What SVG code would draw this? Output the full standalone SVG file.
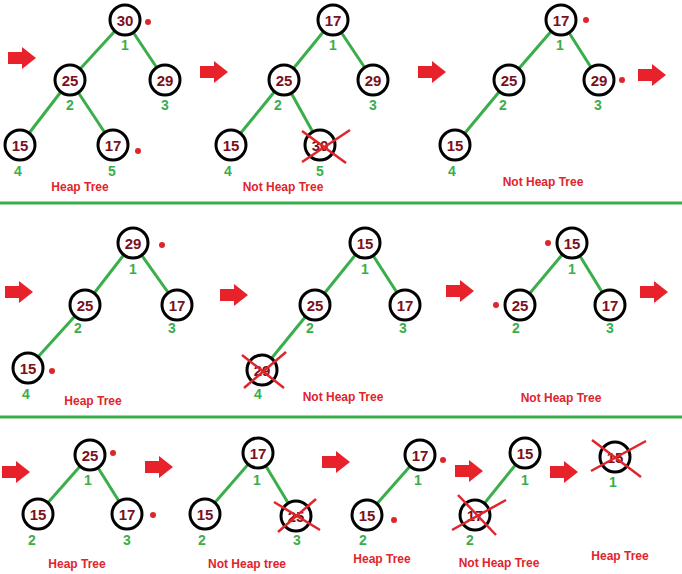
<svg xmlns="http://www.w3.org/2000/svg" xmlns:xlink="http://www.w3.org/1999/xlink" width="682" height="574" viewBox="0 0 682 574">
<style>
.n circle{fill:#fff;stroke:#000;stroke-width:3}
.n text{font-family:"Liberation Sans",Arial,sans-serif;font-weight:bold;font-size:15px;fill:#7a1020;text-anchor:middle}
.i{font-family:"Liberation Sans",Arial,sans-serif;font-weight:bold;font-size:14px;fill:#3aae4a;text-anchor:middle}
.l{font-family:"Liberation Sans",Arial,sans-serif;font-weight:bold;font-size:12px;fill:#e0242c;text-anchor:middle}
.e{stroke:#3aae4a;stroke-width:3}
.x{stroke:#e0242c;stroke-width:2.5}
.d{fill:#e0242c}
</style>
<defs>
<path id="ar" d="M0,-6H14V-11L28,0L14,11V6H0Z" fill="#e8222a"/>
</defs>
<g id="connectors">
<line class="e" x1="125" y1="20" x2="70" y2="80"/><line class="e" x1="125" y1="20" x2="165" y2="80"/><line class="e" x1="70" y1="80" x2="20" y2="145"/><line class="e" x1="70" y1="80" x2="113" y2="145"/>
<line class="e" x1="333" y1="20" x2="284" y2="80"/><line class="e" x1="333" y1="20" x2="373" y2="80"/><line class="e" x1="284" y1="80" x2="231" y2="145"/><line class="e" x1="284" y1="80" x2="320" y2="145"/>
<line class="e" x1="561" y1="20" x2="509" y2="80"/><line class="e" x1="561" y1="20" x2="599" y2="80"/><line class="e" x1="509" y1="80" x2="455" y2="145"/>
<line class="e" x1="133" y1="243" x2="85" y2="305"/><line class="e" x1="133" y1="243" x2="177" y2="305"/><line class="e" x1="85" y1="305" x2="28" y2="368"/>
<line class="e" x1="365" y1="243" x2="315" y2="305"/><line class="e" x1="365" y1="243" x2="405" y2="305"/><line class="e" x1="315" y1="305" x2="262" y2="370"/>
<line class="e" x1="572" y1="243" x2="520" y2="305"/><line class="e" x1="572" y1="243" x2="610" y2="305"/>
<line class="e" x1="90" y1="455" x2="38" y2="514"/><line class="e" x1="90" y1="455" x2="127" y2="514"/>
<line class="e" x1="258" y1="453" x2="205" y2="514"/><line class="e" x1="258" y1="453" x2="296" y2="516"/>
<line class="e" x1="420" y1="455" x2="367" y2="515"/>
<line class="e" x1="525" y1="453" x2="475" y2="515"/>
</g>
<g id="separators"><line x1="0" y1="203" x2="682" y2="203" stroke="#3aae4a" stroke-width="3"/><line x1="0" y1="417" x2="682" y2="417" stroke="#3aae4a" stroke-width="3"/></g>
<g id="arrows">
<use href="#ar" x="8" y="58"/><use href="#ar" x="200" y="72"/><use href="#ar" x="418" y="72"/><use href="#ar" x="638" y="75"/>
<use href="#ar" x="5" y="292"/><use href="#ar" x="220" y="295"/><use href="#ar" x="446" y="291"/><use href="#ar" x="640" y="292"/>
<use href="#ar" x="2" y="472"/><use href="#ar" x="145" y="467"/><use href="#ar" x="322" y="462"/><use href="#ar" x="455" y="471"/><use href="#ar" x="550" y="472"/>
</g>
<g id="p1">
<g class="n" id="n1a"><circle cx="125" cy="20" r="15"/><text x="125" y="26">30</text></g>
<g class="n" id="n1b"><circle cx="70" cy="80" r="15"/><text x="70" y="86">25</text></g>
<g class="n" id="n1c"><circle cx="165" cy="80" r="15"/><text x="165" y="86">29</text></g>
<g class="n" id="n1d"><circle cx="20" cy="145" r="15"/><text x="20" y="151">15</text></g>
<g class="n" id="n1e"><circle cx="113" cy="145" r="15"/><text x="113" y="151">17</text></g>
<circle class="d" cx="148" cy="22" r="3"/><circle class="d" cx="138" cy="151" r="3"/>
<text class="i" x="125" y="50">1</text><text class="i" x="70" y="110">2</text><text class="i" x="165" y="110">3</text><text class="i" x="18" y="176">4</text><text class="i" x="112" y="176">5</text>
<text class="l" x="80" y="191">Heap Tree</text>
</g>
<g id="p2">
<g class="n" id="n2a"><circle cx="333" cy="20" r="15"/><text x="333" y="26">17</text></g>
<g class="n" id="n2b"><circle cx="284" cy="80" r="15"/><text x="284" y="86">25</text></g>
<g class="n" id="n2c"><circle cx="373" cy="80" r="15"/><text x="373" y="86">29</text></g>
<g class="n" id="n2d"><circle cx="231" cy="145" r="15"/><text x="231" y="151">15</text></g>
<g class="n" id="n2e"><circle cx="320" cy="145" r="15"/><text x="320" y="151">30</text></g>
<line class="x" x1="302" y1="131" x2="346" y2="163"/><line class="x" x1="302" y1="162" x2="350" y2="130"/>
<text class="i" x="333" y="50">1</text><text class="i" x="278" y="110">2</text><text class="i" x="373" y="110">3</text><text class="i" x="228" y="176">4</text><text class="i" x="320" y="176">5</text>
<text class="l" x="283" y="191">Not Heap Tree</text>
</g>
<g id="p3">
<g class="n" id="n3a"><circle cx="561" cy="20" r="15"/><text x="561" y="26">17</text></g>
<g class="n" id="n3b"><circle cx="509" cy="80" r="15"/><text x="509" y="86">25</text></g>
<g class="n" id="n3c"><circle cx="599" cy="80" r="15"/><text x="599" y="86">29</text></g>
<g class="n" id="n3d"><circle cx="455" cy="145" r="15"/><text x="455" y="151">15</text></g>
<circle class="d" cx="586" cy="20" r="3"/><circle class="d" cx="622" cy="80" r="3"/>
<text class="i" x="560" y="50">1</text><text class="i" x="503" y="110">2</text><text class="i" x="598" y="110">3</text><text class="i" x="452" y="176">4</text>
<text class="l" x="543" y="186">Not Heap Tree</text>
</g>
<g id="p4">
<g class="n" id="n4a"><circle cx="133" cy="243" r="15"/><text x="133" y="249">29</text></g>
<g class="n" id="n4b"><circle cx="85" cy="305" r="15"/><text x="85" y="311">25</text></g>
<g class="n" id="n4c"><circle cx="177" cy="305" r="15"/><text x="177" y="311">17</text></g>
<g class="n" id="n4d"><circle cx="28" cy="368" r="15"/><text x="28" y="374">15</text></g>
<circle class="d" cx="162" cy="245" r="3"/><circle class="d" cx="52" cy="371" r="3"/>
<text class="i" x="133" y="274">1</text><text class="i" x="78" y="333">2</text><text class="i" x="172" y="333">3</text><text class="i" x="26" y="399">4</text>
<text class="l" x="93" y="405">Heap Tree</text>
</g>
<g id="p5">
<g class="n" id="n5a"><circle cx="365" cy="243" r="15"/><text x="365" y="249">15</text></g>
<g class="n" id="n5b"><circle cx="315" cy="305" r="15"/><text x="315" y="311">25</text></g>
<g class="n" id="n5c"><circle cx="405" cy="305" r="15"/><text x="405" y="311">17</text></g>
<g class="n" id="n5d"><circle cx="262" cy="370" r="15"/><text x="262" y="376">29</text></g>
<line class="x" x1="242" y1="355" x2="284" y2="388"/><line class="x" x1="244" y1="388" x2="286" y2="352"/>
<text class="i" x="365" y="274">1</text><text class="i" x="310" y="333">2</text><text class="i" x="403" y="333">3</text><text class="i" x="258" y="399">4</text>
<text class="l" x="343" y="401">Not Heap Tree</text>
</g>
<g id="p6">
<g class="n" id="n6a"><circle cx="572" cy="243" r="15"/><text x="572" y="249">15</text></g>
<g class="n" id="n6b"><circle cx="520" cy="305" r="15"/><text x="520" y="311">25</text></g>
<g class="n" id="n6c"><circle cx="610" cy="305" r="15"/><text x="610" y="311">17</text></g>
<circle class="d" cx="548" cy="243" r="3"/><circle class="d" cx="496" cy="305" r="3"/>
<text class="i" x="572" y="274">1</text><text class="i" x="516" y="333">2</text><text class="i" x="610" y="333">3</text>
<text class="l" x="561" y="402">Not Heap Tree</text>
</g>
<g id="p7">
<g class="n" id="n7a"><circle cx="90" cy="455" r="15"/><text x="90" y="461">25</text></g>
<g class="n" id="n7b"><circle cx="38" cy="514" r="15"/><text x="38" y="520">15</text></g>
<g class="n" id="n7c"><circle cx="127" cy="514" r="15"/><text x="127" y="520">17</text></g>
<circle class="d" cx="113" cy="453" r="3"/><circle class="d" cx="153" cy="515" r="3"/>
<text class="i" x="88" y="485">1</text><text class="i" x="32" y="545">2</text><text class="i" x="127" y="545">3</text>
<text class="l" x="77" y="568">Heap Tree</text>
</g>
<g id="p8">
<g class="n" id="n8a"><circle cx="258" cy="453" r="15"/><text x="258" y="459">17</text></g>
<g class="n" id="n8b"><circle cx="205" cy="514" r="15"/><text x="205" y="520">15</text></g>
<g class="n" id="n8c"><circle cx="296" cy="516" r="15"/><text x="296" y="522">25</text></g>
<line class="x" x1="274" y1="502" x2="320" y2="530"/><line class="x" x1="278" y1="532" x2="316" y2="499"/>
<text class="i" x="257" y="485">1</text><text class="i" x="202" y="545">2</text><text class="i" x="297" y="545">3</text>
<text class="l" x="247" y="568">Not Heap tree</text>
</g>
<g id="p9">
<g class="n" id="n9a"><circle cx="420" cy="455" r="15"/><text x="420" y="461">17</text></g>
<g class="n" id="n9b"><circle cx="367" cy="515" r="15"/><text x="367" y="521">15</text></g>
<circle class="d" cx="443" cy="460" r="3"/><circle class="d" cx="394" cy="520" r="3"/>
<text class="i" x="418" y="485">1</text><text class="i" x="363" y="545">2</text>
<text class="l" x="382" y="563">Heap Tree</text>
</g>
<g id="p10">
<g class="n" id="n10a"><circle cx="525" cy="453" r="15"/><text x="525" y="459">15</text></g>
<g class="n" id="n10b"><circle cx="475" cy="515" r="15"/><text x="475" y="521">17</text></g>
<line class="x" x1="458" y1="495" x2="496" y2="535"/><line class="x" x1="452" y1="530" x2="506" y2="500"/>
<text class="i" x="525" y="485">1</text><text class="i" x="470" y="545">2</text>
<text class="l" x="499" y="567">Not Heap Tree</text>
</g>
<g id="p11">
<g class="n" id="n11a"><circle cx="615" cy="457" r="15"/><text x="615" y="463">15</text></g>
<line class="x" x1="592" y1="440" x2="641" y2="477"/><line class="x" x1="591" y1="471" x2="646" y2="441"/>
<text class="i" x="613" y="487">1</text>
<text class="l" x="620" y="560">Heap Tree</text>
</g>
</svg>
